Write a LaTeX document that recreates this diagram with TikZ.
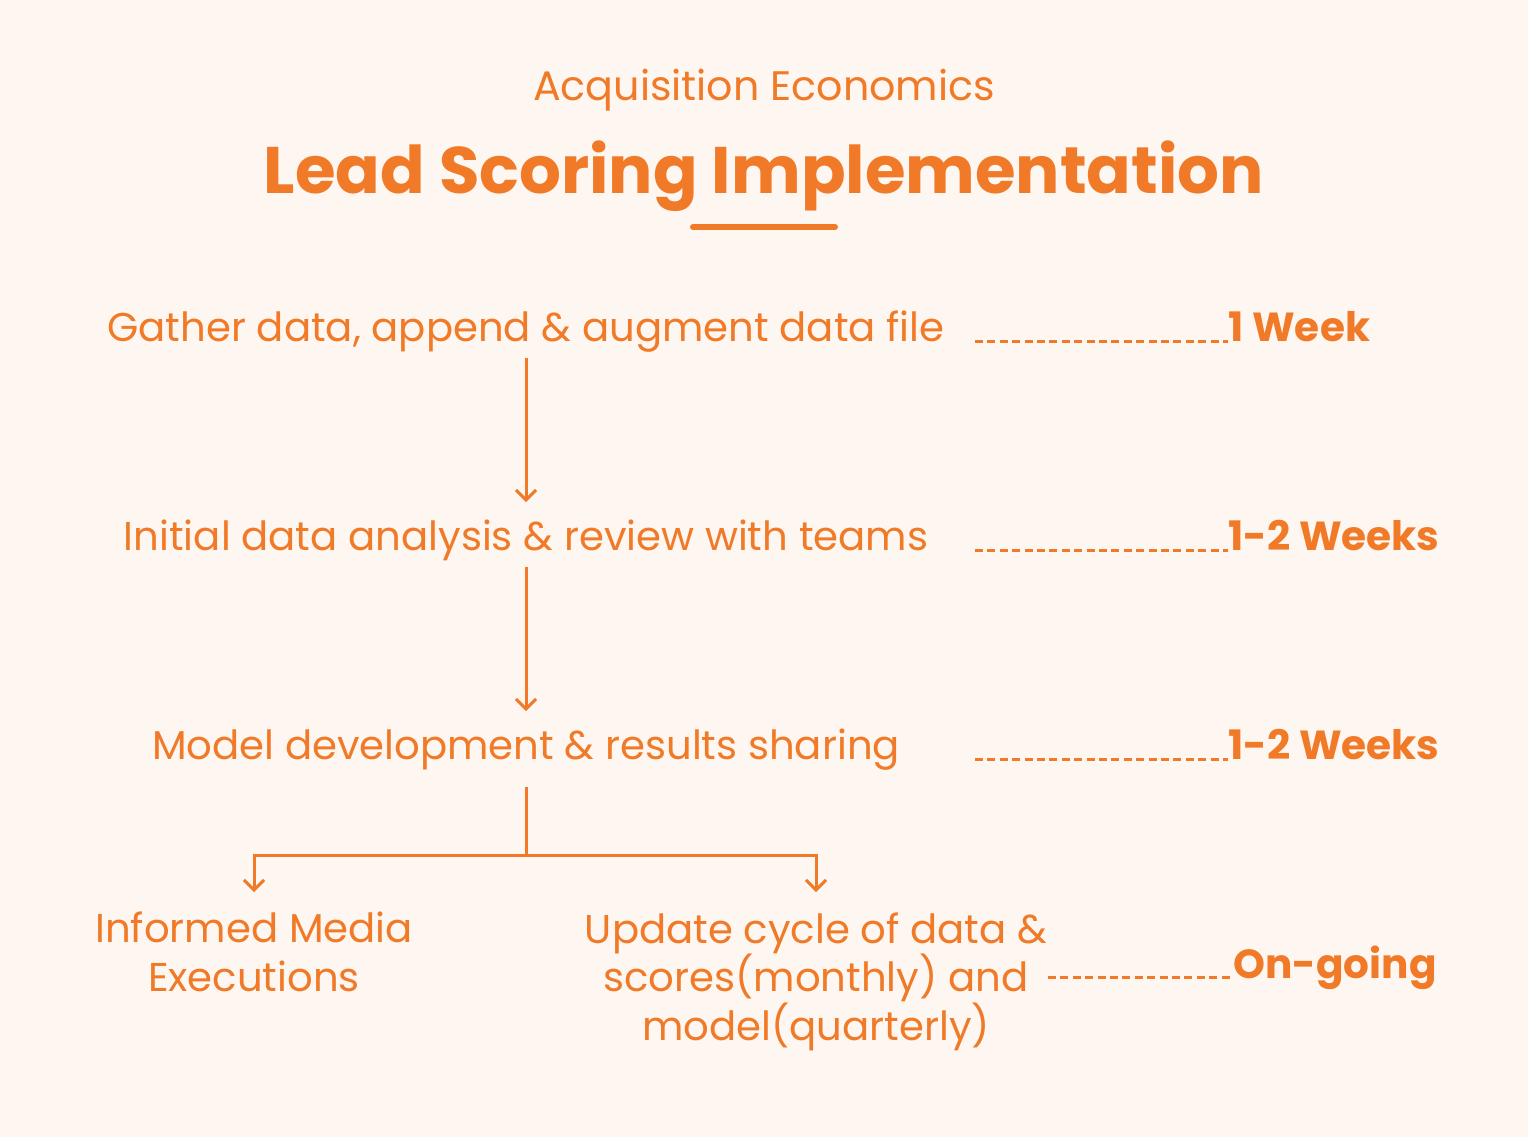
\documentclass[tikz,border=0pt]{standalone}
\usepackage{fontspec}
\setmainfont{Poppins}
\usetikzlibrary{arrows.meta}
\definecolor{leadorange}{HTML}{F07A28}
\definecolor{leadbg}{HTML}{FEF6F0}

\begin{document}
\begin{tikzpicture}[x=0.5pt,y=-0.5pt,
  steptext/.style={text=leadorange,inner sep=0pt,anchor=base,align=center,
    font=\fontsize{20.1}{24.25}\selectfont},
  timetext/.style={text=leadorange,inner sep=0pt,anchor=base west,
    font=\bfseries\fontsize{20.3}{22}\selectfont},
  flowline/.style={draw=leadorange,line width=1.5pt},
  flowarrow/.style={flowline,-{Straight Barb[length=5pt,width=10pt,line width=1.5pt]}},
  dotline/.style={draw=leadorange,line width=1.5pt,dash pattern=on 4pt off 2.2pt}]
	% background
	\fill[leadbg] (0,0) rectangle (1528,1137);
	\useasboundingbox (0,0) rectangle (1528,1137);
	% heading
	\node[text=leadorange,inner sep=0pt,anchor=base,font=\fontsize{20.6}{24}\selectfont] (subtitle) at (764,100) {Acquisition Economics};
	\node[text=leadorange,inner sep=0pt,anchor=base,font=\bfseries\fontsize{32.9}{38}\selectfont] (title) at (764,193) {Lead Scoring Implementation};
	\draw[leadorange,line width=3pt,line cap=round] (693,227) -- (835,227);

	% steps (base = last line)
	\node[steptext] (gather) at (526,341) {Gather data, append \& augment data file};
	\node[steptext] (analysis) at (526,550) {Initial data analysis \& review with teams};
	\node[steptext] (model) at (526,759) {Model development \& results sharing};
	\node[steptext] (media) at (254,991) {Informed Media\\Executions};
	\node[steptext] (update) at (816,1040) {Update cycle of data \&\\scores(monthly) and\\model(quarterly)};

	% durations
	\node[timetext] (week1) at (1228,341) {1 Week};
	\node[timetext] (week2) at (1228,550) {1-2 Weeks};
	\node[timetext] (week3) at (1228,759) {1-2 Weeks};
	\node[timetext] (ongoing) at (1233,978) {On-going};

	% flow
	\draw[flowarrow] ([yshift=-8.5pt]gather.base) -- ([yshift=24pt]analysis.base);
	\draw[flowarrow] ([yshift=-8.5pt]analysis.base) -- ([yshift=24pt]model.base);
	\coordinate (split) at (526,855);
	\draw[flowline] ([yshift=-14pt]model.base) -- (split);
	\draw[flowarrow] (split) -| ([yshift=49.5pt]media.base);
	\draw[flowarrow] (split) -| ([yshift=74pt]update.base);

	% dashed leaders
	\coordinate (lead1) at (975,341);
	\coordinate (lead2) at (975,550);
	\coordinate (lead3) at (975,759);
	\coordinate (lead4) at (1048,977);
	\draw[dotline] (lead1) -- (week1.base west);
	\draw[dotline] (lead2) -- (week2.base west);
	\draw[dotline] (lead3) -- (week3.base west);
	\draw[dotline] (lead4) -- ([yshift=0.5pt]ongoing.base west);
\end{tikzpicture}
\end{document}
